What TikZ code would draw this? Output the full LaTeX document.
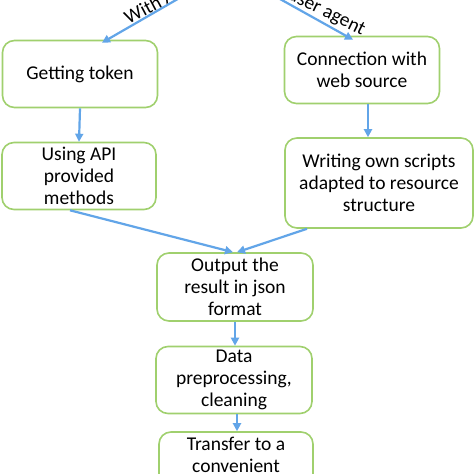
\documentclass[tikz,border=0pt]{standalone}
\usepackage{fontspec}
\setmainfont{Carlito}
\usetikzlibrary{arrows.meta}
\definecolor{flowblue}{RGB}{98,165,232}
\definecolor{boxgreen}{RGB}{160,208,110}
\tikzset{
  stepbox/.style={draw=boxgreen, line width=1.6pt, rounded corners=12pt,
    align=center, inner sep=2pt, font=\fontsize{19.5}{22}\selectfont},
  flow/.style={draw=flowblue, line width=2.2pt,
    -{Triangle[length=8pt,width=8pt]}},
  flowlbl/.style={font=\fontsize{19.5}{22}\selectfont, inner sep=1pt}
}
\begin{document}
\begin{tikzpicture}[x=1pt,y=-1pt]
  \useasboundingbox (0,0) rectangle (474,474);
  \clip (0,0) rectangle (474,474);
  \fill[white] (0,0) rectangle (474,474);
  % boxes
  \node[stepbox, minimum width=155pt, minimum height=67pt] (tok) at (80,74) {Getting token};
  \node[stepbox, minimum width=154pt, minimum height=67pt] (api) at (79,176) {Using API\\provided\\methods};
  \node[stepbox, minimum width=155pt, minimum height=67pt] (conn) at (362,70) {Connection with\\web source};
  \node[stepbox, minimum width=188pt, minimum height=90pt] (scr) at (379,183) {Writing own scripts\\adapted to resource\\structure};
  \node[stepbox, minimum width=156pt, minimum height=68pt] (json) at (235,287) {Output the\\result in json\\format};
  \node[stepbox, minimum width=156pt, minimum height=67pt] (prep) at (234,380) {Data\\preprocessing,\\cleaning};
  \node[stepbox, minimum width=154pt, minimum height=68pt] (trans) at (236,466) {Transfer to a\\convenient\\\mbox{}};
  % source above the picture
  \coordinate (src) at (228,-30);
  \draw[flow] (src) -- coordinate[pos=0.54] (lblL) ([xshift=22pt,yshift=-3pt]tok.north);
  \draw[flow] (src) -- coordinate[pos=0.60] (lblR) ([xshift=-9pt,yshift=-4pt]conn.north);
  \node[flowlbl, rotate=28, above] (withapi) at (lblL) {With API};
  \node[flowlbl, rotate=-26, above] (withagent) at (lblR) {With user agent};
  % flow
  \draw[flow] (tok.south) -- (api.north);
  \draw[flow] ([xshift=6pt]conn.south) -- ([xshift=6pt]conn.south |- scr.north);
  \draw[flow] ([xshift=-9pt]api.south) -- ([xshift=-2pt]json.north);
  \draw[flow] ([xshift=-72pt]scr.south) -- ([xshift=2pt]json.north);
  \draw[flow] (json.south) -- (json.south |- prep.north);
  \draw[flow] ([xshift=3pt]prep.south) -- ([xshift=3pt]prep.south |- trans.north);
\end{tikzpicture}
\end{document}
